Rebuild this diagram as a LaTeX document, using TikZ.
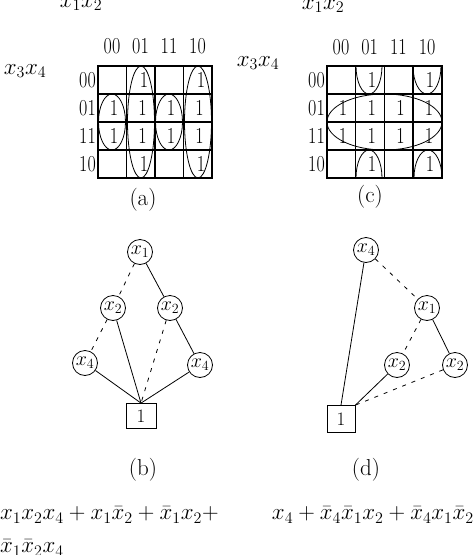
\RequirePackage{fix-cm}
\documentclass[tikz,border=0pt]{standalone}
\usepackage{graphicx}
\newcommand\tallnum[1]{\scalebox{0.95}[1.2]{#1}}
\begin{document}
\begin{tikzpicture}[x=1pt,y=-1pt,
  every node/.style={font=\fontsize{19}{22}\selectfont, inner sep=0pt},
  bigtext/.style={font=\fontsize{23}{27}\selectfont},
  formtext/.style={font=\fontsize{23}{27}\selectfont},
  gridline/.style={line width=1.3pt},
  loop/.style={line width=0.8pt},
  bddnode/.style={circle, draw, line width=0.8pt, minimum size=25pt, font=\fontsize{20}{24}\selectfont},
  termbox/.style={rectangle, draw, line width=0.8pt, minimum width=30pt, minimum height=25pt},
  hi/.style={line width=0.8pt},
  lo/.style={line width=0.8pt, dash pattern=on 4pt off 6pt}]
\useasboundingbox (0,0) rectangle (474,555);

% ---------- map (a) ----------
\node[bigtext] (ax12) at (81,4) {$x_1x_2$};
\node[bigtext] (ax34) at (25,71) {$x_3x_4$};
\foreach \lab [count=\i from 0] in {00,01,11,10} {
  \node (ach\i) at (112+28.5*\i,46) {\tallnum{\lab}};
  \node[anchor=east] (arh\i) at (96,80+28*\i) {\tallnum{\lab}};
}
\draw[gridline] (98,66) rectangle (212,178);
\foreach \i in {1,2,3} {
  \draw[gridline] (98+28.5*\i,66) -- (98+28.5*\i,178);
  \draw[gridline] (98,66+28*\i) -- (212,66+28*\i);
}
\node (a01) at (144,80) {\tallnum{1}};
\node (a03) at (201,80) {\tallnum{1}};
\foreach \j in {0,1,2,3} {
  \node (ar1\j) at (114+28.5*\j,108) {\tallnum{1}};
  \node (ar2\j) at (114+28.5*\j,136) {\tallnum{1}};
}
\node (a31) at (144,164) {\tallnum{1}};
\node (a33) at (201,164) {\tallnum{1}};
\draw[loop] (141,122) ellipse [x radius=13.5, y radius=56];
\draw[loop] (198,122) ellipse [x radius=13.5, y radius=56];
\draw[loop] (112,122) ellipse [x radius=13.5, y radius=28];
\draw[loop] (169,122) ellipse [x radius=13.5, y radius=28];
\node[bigtext] (capa) at (143,200) {(a)};

% ---------- map (c) ----------
\node[bigtext] (cx12) at (323,6) {$x_1x_2$};
\node[bigtext] (cx34) at (258,63) {$x_3x_4$};
\foreach \lab [count=\i from 0] in {00,01,11,10} {
  \node (cch\i) at (341+28.7*\i,47) {\tallnum{\lab}};
  \node[anchor=east] (crh\i) at (325,80+28*\i) {\tallnum{\lab}};
}
\draw[gridline] (327,66) rectangle (442,178);
\foreach \i in {1,2,3} {
  \draw[gridline] (327+28.7*\i,66) -- (327+28.7*\i,178);
  \draw[gridline] (327,66+28*\i) -- (442,66+28*\i);
}
\node (c01) at (372,80) {\tallnum{1}};
\node (c03) at (430,80) {\tallnum{1}};
\foreach \j in {0,1,2,3} {
  \node (cr1\j) at (343+28.7*\j,108) {\tallnum{1}};
  \node (cr2\j) at (343+28.7*\j,136) {\tallnum{1}};
}
\node (c31) at (372,164) {\tallnum{1}};
\node (c33) at (430,164) {\tallnum{1}};
\begin{scope}
  \clip (327,66) rectangle (442,178);
  \draw[loop] (369,66) ellipse [x radius=13, y radius=28];
  \draw[loop] (427,66) ellipse [x radius=14, y radius=28];
  \draw[loop] (369,178) ellipse [x radius=13, y radius=28];
  \draw[loop] (428,178) ellipse [x radius=14, y radius=28];
\end{scope}
\draw[loop] (384.5,122) ellipse [x radius=57.5, y radius=28];
\node[bigtext] (capc) at (370,197) {(c)};

% ---------- BDD (b) ----------
\node[bddnode] (b1) at (140,252) {$x_1$};
\node[bddnode] (b2l) at (113,308) {$x_2$};
\node[bddnode] (b2r) at (170,308) {$x_2$};
\node[bddnode] (b4l) at (85,363) {$x_4$};
\node[bddnode] (b4r) at (200,365) {$x_4$};
\node[termbox] (bone) at (141,416) {1};
\draw[lo] (b1) -- (b2l);
\draw[hi] (b1) -- (b2r);
\draw[lo] (b2l) -- (b4l);
\draw[hi] (b2l) -- (bone.north);
\draw[lo] (b2r) -- (bone.north);
\draw[hi] (b2r) -- (b4r);
\draw[hi] (b4l) -- (bone.north);
\draw[hi] (b4r) -- (bone.north);
\node[bigtext] (capb) at (143,470) {(b)};

% ---------- BDD (d) ----------
\node[bddnode] (d4) at (366,250) {$x_4$};
\node[bddnode] (d1) at (427,308) {$x_1$};
\node[bddnode] (d2l) at (397,365) {$x_2$};
\node[bddnode] (d2r) at (455,365) {$x_2$};
\node[termbox, minimum width=28pt, minimum height=27pt] (done) at (341,419) {1};
\draw[hi] (d4) -- (done.north);
\draw[lo] (d4) -- (d1);
\draw[lo] (d1) -- (d2l);
\draw[hi] (d1) -- (d2r);
\draw[hi] (d2l) -- (done.north east);
\draw[lo] (d2r) -- (done.north east);
\node[bigtext] (capd) at (366,470) {(d)};

% ---------- formulas ----------
\node[formtext, anchor=west] (fa1) at (0,515) {$x_1x_2x_4+x_1\bar x_2+\bar x_1x_2+$};
\node[formtext, anchor=west] (fa2) at (0,548) {$\bar x_1\bar x_2x_4$};
\node[formtext, anchor=east] (fc) at (474,515) {$x_4+\bar x_4\bar x_1x_2+\bar x_4x_1\bar x_2$};
\end{tikzpicture}
\end{document}
